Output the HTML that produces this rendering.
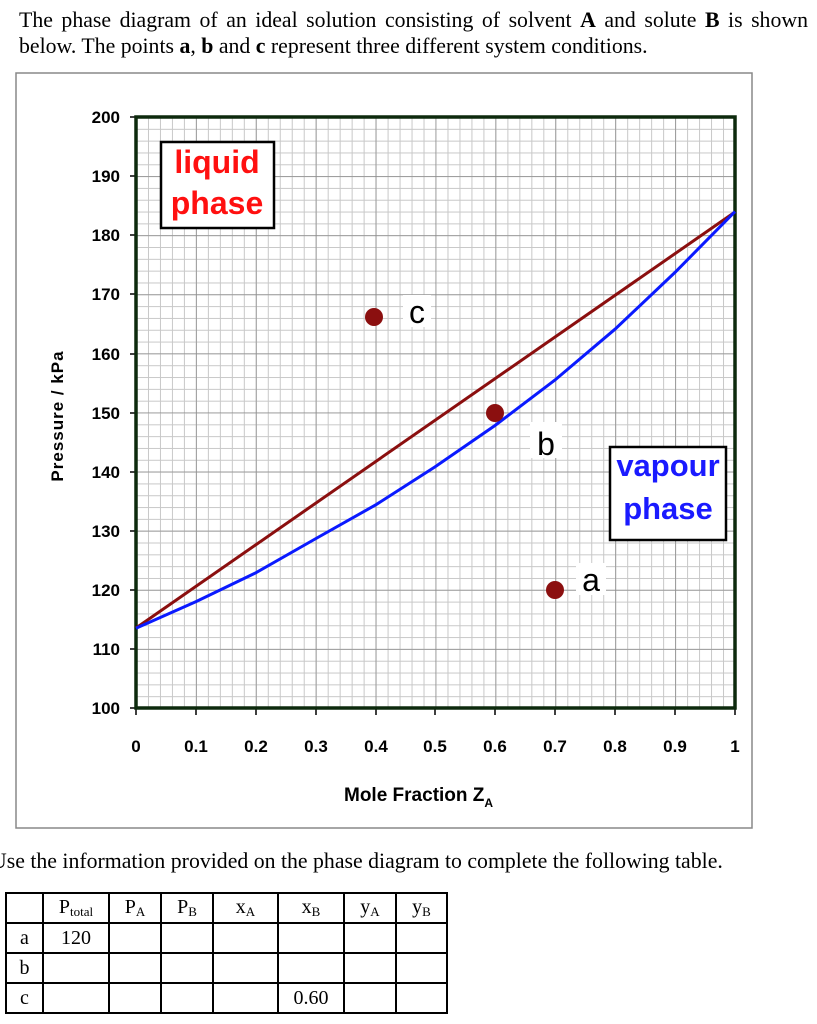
<!DOCTYPE html>
<html><head><meta charset="utf-8"><style>
body{margin:0;width:817px;height:1024px;background:#fff;position:relative;overflow:hidden;font-family:"Liberation Serif",serif;}
.t{position:absolute;font-size:21.8px;color:#000;white-space:nowrap}
table{position:absolute;left:5px;top:892px;border-collapse:collapse;font-family:"Liberation Serif",serif;font-size:20px}
td{border:2px solid #000;height:28px;padding:0;text-align:center}
sub{font-size:13px;vertical-align:-3px}
</style></head><body>
<div class="t" style="left:19px;top:8px;width:789px;text-align:justify;text-align-last:justify;white-space:normal">The phase diagram of an ideal solution consisting of solvent <b>A</b> and solute <b>B</b> is shown</div>
<div class="t" style="left:19px;top:34px">below. The points <b>a</b>, <b>b</b> and <b>c</b> represent three different system conditions.</div>
<svg width="817" height="840" style="position:absolute;left:0;top:0" font-family="Liberation Sans, Arial, sans-serif">
<defs>
<pattern id="mi" x="136" y="117" width="11.98" height="11.82" patternUnits="userSpaceOnUse"><path d="M0 0V11.82M0 0H11.98" stroke="#c8c8c8" stroke-width="2" fill="none"/></pattern>
<pattern id="ma" x="136" y="117" width="59.9" height="59.1" patternUnits="userSpaceOnUse"><path d="M0 0V59.1M0 0H59.9" stroke="#8c8c8c" stroke-width="1.5" fill="none"/></pattern>
</defs>
<rect x="16" y="73" width="736" height="755" fill="#fff" stroke="#888" stroke-width="1.5"/>
<rect x="136" y="117" width="599" height="591" fill="url(#mi)"/>
<rect x="136" y="117" width="599" height="591" fill="url(#ma)"/>
<g stroke="#000" stroke-width="1.5">
<path d="M130 117H136M130 176H136M130 235H136M130 294H136M130 354H136M130 413H136M130 472H136M130 531H136M130 590H136M130 649H136M130 708H136"/>
<path d="M136 708V715M196 708V715M256 708V715M316 708V715M376 708V715M435 708V715M495 708V715M555 708V715M615 708V715M675 708V715M735 708V715"/>
</g>
<rect x="136" y="117" width="599" height="591" fill="none" stroke="#0d2a0d" stroke-width="3.5"/>
<g font-size="17" font-weight="bold" text-anchor="end" fill="#000">
<text x="120" y="123">200</text><text x="120" y="182">190</text><text x="120" y="241">180</text><text x="120" y="300">170</text><text x="120" y="360">160</text><text x="120" y="419">150</text><text x="120" y="478">140</text><text x="120" y="537">130</text><text x="120" y="596">120</text><text x="120" y="655">110</text><text x="120" y="714">100</text>
</g>
<g font-size="17" font-weight="bold" text-anchor="middle" fill="#000">
<text x="136" y="752">0</text><text x="196" y="752">0.1</text><text x="256" y="752">0.2</text><text x="316" y="752">0.3</text><text x="376" y="752">0.4</text><text x="435" y="752">0.5</text><text x="495" y="752">0.6</text><text x="555" y="752">0.7</text><text x="615" y="752">0.8</text><text x="675" y="752">0.9</text><text x="735" y="752">1</text>
</g>
<text x="344" y="801" font-size="19" font-weight="bold">Mole Fraction Z<tspan font-size="12" dy="6">A</tspan></text>
<text transform="translate(63,416) rotate(-90)" font-size="17" font-weight="bold" text-anchor="middle" letter-spacing="1">Pressure  / kPa</text>
<line x1="136" y1="628" x2="735" y2="212" stroke="#8b0f0f" stroke-width="3"/>
<polyline points="136,628.2 196,601.6 256,572.7 316,538.5 376,504.7 435,466.9 495,425.5 555,380 615,329.2 675,272.4 735,211.6" fill="none" stroke="#0a1aff" stroke-width="3"/>
<rect x="161" y="142" width="113" height="86" fill="#fff" stroke="#000" stroke-width="2.5"/>
<text x="217" y="173" font-size="32" font-weight="bold" fill="#ff1010" text-anchor="middle">liquid</text>
<text x="217" y="214" font-size="32" font-weight="bold" fill="#ff1010" text-anchor="middle">phase</text>
<rect x="610" y="447" width="116" height="93" fill="#fff" stroke="#000" stroke-width="2.5"/>
<text x="668" y="476" font-size="31" font-weight="bold" fill="#1a1aff" text-anchor="middle">vapour</text>
<text x="668" y="519" font-size="31" font-weight="bold" fill="#1a1aff" text-anchor="middle">phase</text>
<rect x="403" y="295" width="28" height="32" fill="#fff"/><text x="417" y="323" font-size="32" text-anchor="middle">c</text>
<rect x="530" y="422" width="32" height="36" fill="#fff"/><text x="546" y="455" font-size="32" text-anchor="middle">b</text>
<rect x="576" y="563" width="30" height="32" fill="#fff"/><text x="591" y="591" font-size="32" text-anchor="middle">a</text>
<g fill="#8b0f0f"><circle cx="555" cy="590" r="9"/><circle cx="495" cy="413" r="9"/><circle cx="374" cy="317" r="9"/></g>
</svg>
<div class="t" style="left:-9px;top:849px">Use the information provided on the phase diagram to complete the following table.</div>
<table>
<tr><td style="width:35px"></td><td style="width:64px">P<sub>total</sub></td><td style="width:50px">P<sub>A</sub></td><td style="width:50px">P<sub>B</sub></td><td style="width:63px">x<sub>A</sub></td><td style="width:64px">x<sub>B</sub></td><td style="width:50px">y<sub>A</sub></td><td style="width:49px">y<sub>B</sub></td></tr>
<tr><td>a</td><td>120</td><td></td><td></td><td></td><td></td><td></td><td></td></tr>
<tr><td>b</td><td></td><td></td><td></td><td></td><td></td><td></td><td></td></tr>
<tr><td>c</td><td></td><td></td><td></td><td></td><td>0.60</td><td></td><td></td></tr>
</table>
</body></html>
